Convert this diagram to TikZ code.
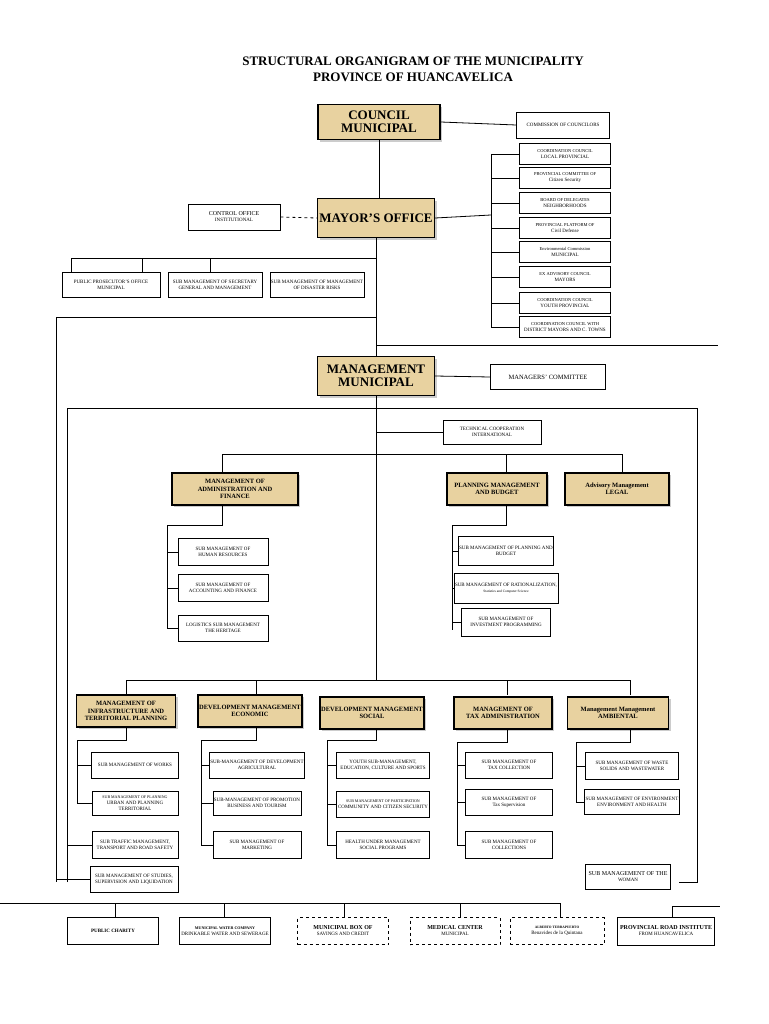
\documentclass[tikz,border=0pt]{standalone}
\usepackage{fontspec}
\setmainfont{Liberation Serif}
\usetikzlibrary{shapes,arrows,positioning,shadows}
\definecolor{tan}{RGB}{232,210,160}
\tikzset{
  box/.style={draw,thick,inner sep=1pt,align=center,font=\fontsize{5}{6}\selectfont},
  mgmt/.style={draw,line width=1.4pt,fill=tan,inner sep=1pt,align=center,font=\bfseries\fontsize{6.5}{7.5}\selectfont,drop shadow={opacity=0.4}},
  big/.style={mgmt,font=\bfseries\fontsize{13}{13}\selectfont},
  dbox/.style={box,dashed},
  ln/.style={thick}
}
\newcommand{\bx}[6][box]{\node[#1,minimum width=#4,minimum height=#5] (#2) at (#3) {#6};}
\begin{document}
\begin{tikzpicture}[x=1pt,y=-1pt]
\useasboundingbox (0,0) rectangle (768,1024);
% title
\node[font=\bfseries\fontsize{13}{16}\selectfont,align=center] (title) at (413,69) {STRUCTURAL ORGANIGRAM OF THE MUNICIPALITY\\PROVINCE OF HUANCAVELICA};

% top level
\bx[big]{council}{379,122}{122}{35}{COUNCIL\\MUNICIPAL}
\bx{commission}{563,125}{93}{26}{COMMISSION OF COUNCILORS}
\bx[big]{mayor}{376,218}{117}{39}{MAYOR'S OFFICE}
\bx{control}{234,217}{92}{26}{\fontsize{6}{7}\selectfont CONTROL OFFICE\\INSTITUTIONAL}
\draw[ln] (council) -- (council|-mayor.north);
\draw[ln] (council.east) -- (commission.west);
\draw[ln,dashed] (control.east) -- (mayor.west);

% councils on the right
\coordinate (vR) at (491,154);
\draw[ln] (mayor.east) -- (491,215);
\foreach \y/\t [count=\i] in {154/{COORDINATION COUNCIL\\LOCAL PROVINCIAL},
  178/{PROVINCIAL COMMITTEE OF\\Citizen Security},
  203/{BOARD OF DELEGATES\\NEIGHBORHOODS},
  228/{PROVINCIAL PLATFORM OF\\Civil Defense},
  252/{Environmental Commission\\MUNICIPAL},
  277/{EX ADVISORY COUNCIL\\MAYORS},
  303/{COORDINATION COUNCIL\\YOUTH PROVINCIAL},
  327/{COORDINATION COUNCIL WITH\\DISTRICT MAYORS AND C. TOWNS}}{
  \bx{cc\i}{565,\y}{91}{21}{\fontsize{4.5}{5.5}\selectfont\t}
  \draw[ln] (cc\i.west -| vR) -- (cc\i.west);
}
\draw[ln] (491,154) -- (491,327);

% offices under mayor
\bx{prosecutor}{111,285}{98}{25}{PUBLIC PROSECUTOR'S OFFICE\\MUNICIPAL}
\bx{secretary}{215,285}{94}{25}{SUB MANAGEMENT OF SECRETARY\\GENERAL AND MANAGEMENT}
\bx{risks}{317,285}{90}{25}{SUB MANAGEMENT OF MANAGEMENT\\OF DISASTER RISKS}
\draw[ln] (mayor.south) -- (376,356);
\draw[ln] (71,258) -- (376,258);
\draw[ln] (71,258) -- (71,273);
\draw[ln] (142,258) -- (142,273);
\draw[ln] (210,258) -- (210,273);
\draw[ln] (56,317) -- (376,317);
\draw[ln] (376,345) -- (718,345);

% municipal management
\bx[big]{manag}{376,376}{117}{39}{MANAGEMENT\\MUNICIPAL}
\bx{committee}{548,377}{115}{25}{\fontsize{6.5}{7}\selectfont MANAGERS' COMMITTEE}
\draw[ln] (manag.east) -- (committee.west);
\draw[ln] (manag.south) -- (376,680);
\draw[ln] (67,882) -- (67,408) -- (697,408) -- (697,882) -- (679,882);
\draw[ln] (56,317) -- (56,882);
\bx{technical}{492,432}{98}{24}{TECHNICAL COOPERATION\\INTERNATIONAL}
\draw[ln] (376,432) -- (technical.west);

\bx[mgmt]{admin}{235,489}{126}{32}{MANAGEMENT OF\\ADMINISTRATION AND\\FINANCE}
\bx[mgmt]{planning}{497,489}{100}{32}{PLANNING MANAGEMENT\\AND BUDGET}
\bx[mgmt]{legal}{617,489}{104}{32}{Advisory Management\\LEGAL}
\draw[ln] (222,473) -- (222,454) -- (622,454) -- (622,473);
\draw[ln] (506,454) -- (506,473);

\bx{hr}{223,552}{90}{27}{SUB MANAGEMENT OF\\HUMAN RESOURCES}
\bx{accounting}{223,588}{90}{27}{SUB MANAGEMENT OF\\ACCOUNTING AND FINANCE}
\bx{logistics}{223,628}{90}{26}{LOGISTICS SUB MANAGEMENT\\THE HERITAGE}
\coordinate (vA) at (167,525);
\draw[ln] (222,505) -- (222,525) -- (167,525) -- (167,629);
\foreach \n in {hr,accounting,logistics} \draw[ln] (\n.west -| vA) -- (\n.west);

\bx{pbudget}{506,551}{89}{29}{SUB MANAGEMENT OF PLANNING AND\\BUDGET}
\bx{ration}{506,588}{89}{30}{SUB MANAGEMENT OF RATIONALIZATION,\\{\fontsize{3.5}{4}\selectfont Statistics and Computer Science}}
\bx{invest}{506,622}{89}{28}{SUB MANAGEMENT OF\\INVESTMENT PROGRAMMING}
\coordinate (vP) at (452,525);
\draw[ln] (506,505) -- (506,525) -- (452,525) -- (452,630);
\foreach \n in {pbudget,ration,invest} \draw[ln] (\n.west -| vP) -- (\n.west);

% line managements
\draw[ln] (126,695) -- (126,680) -- (630,680) -- (630,695);
\foreach \x in {256,507} \draw[ln] (\x,680) -- (\x,695);
\bx[mgmt]{infra}{126,711}{99}{32}{MANAGEMENT OF\\INFRASTRUCTURE AND\\TERRITORIAL PLANNING}
\bx[mgmt]{economic}{250,711}{98}{32}{DEVELOPMENT MANAGEMENT\\ECONOMIC}
\bx[mgmt]{social}{372,713}{95}{32}{DEVELOPMENT MANAGEMENT\\SOCIAL}
\bx[mgmt]{tax}{503,713}{98}{32}{MANAGEMENT OF\\TAX ADMINISTRATION}
\bx[mgmt]{ambient}{618,713}{101}{32}{Management Management\\AMBIENTAL}

\bx{works}{135,765}{87}{26}{SUB MANAGEMENT OF WORKS}
\bx{urban}{135,803}{86}{24}{\fontsize{4}{4.5}\selectfont SUB MANAGEMENT OF PLANNING\\URBAN AND PLANNING\\TERRITORIAL}
\bx{traffic}{135,845}{86}{27}{SUB TRAFFIC MANAGEMENT,\\TRANSPORT AND ROAD SAFETY}
\bx{studies}{134,879}{88}{26}{SUB MANAGEMENT OF STUDIES,\\SUPERVISION AND LIQUIDATION}
\coordinate (vI) at (77,740);
\draw[ln] (126,727) -- (126,740) -- (77,740) -- (77,803);
\foreach \n in {works,urban} \draw[ln] (\n.west -| vI) -- (\n.west);
\coordinate (vL) at (67,845);
\coordinate (vO) at (56,882);
\draw[ln] (traffic.west -| vL) -- (traffic.west);
\draw[ln] (studies.west -| vO) -- (studies.west);

\bx{agri}{257,765}{88}{26}{SUB-MANAGEMENT OF DEVELOPMENT\\AGRICULTURAL}
\bx{promo}{257,803}{88}{24}{SUB-MANAGEMENT OF PROMOTION\\BUSINESS AND TOURISM}
\bx{marketing}{257,845}{88}{27}{SUB MANAGEMENT OF\\MARKETING}
\coordinate (vE) at (201,740);
\draw[ln] (256,727) -- (256,740) -- (201,740) -- (201,845);
\foreach \n in {agri,promo,marketing} \draw[ln] (\n.west -| vE) -- (\n.west);

\bx{youth}{383,765}{93}{26}{YOUTH SUB-MANAGEMENT,\\EDUCATION, CULTURE AND SPORTS}
\bx{particip}{383,804}{93}{26}{\fontsize{4}{4.5}\selectfont SUB MANAGEMENT OF PARTICIPATION\\COMMUNITY AND CITIZEN SECURITY}
\bx{health}{383,845}{93}{27}{HEALTH UNDER MANAGEMENT\\SOCIAL PROGRAMS}
\coordinate (vS) at (327,740);
\draw[ln] (376,729) -- (376,740) -- (327,740) -- (327,845);
\foreach \n in {youth,particip,health} \draw[ln] (\n.west -| vS) -- (\n.west);

\bx{collection}{509,765}{87}{26}{SUB MANAGEMENT OF\\TAX COLLECTION}
\bx{supervision}{509,802}{87}{26}{SUB MANAGEMENT OF\\Tax Supervision}
\bx{collections}{509,845}{87}{27}{SUB MANAGEMENT OF\\COLLECTIONS}
\coordinate (vT) at (457,742);
\draw[ln] (507,729) -- (507,742) -- (457,742) -- (457,845);
\foreach \n in {collection,supervision,collections} \draw[ln] (\n.west -| vT) -- (\n.west);

\bx{waste}{632,766}{93}{27}{SUB MANAGEMENT OF WASTE\\SOLIDS AND WASTEWATER}
\bx{environ}{632,802}{93}{25}{SUB MANAGEMENT OF ENVIRONMENT\\ENVIRONMENT AND HEALTH}
\coordinate (vM) at (576,742);
\draw[ln] (630,729) -- (630,742) -- (576,742) -- (576,802);
\foreach \n in {waste,environ} \draw[ln] (\n.west -| vM) -- (\n.west);
\bx{woman}{628,877}{85}{25}{\fontsize{6}{7}\selectfont SUB MANAGEMENT OF THE\\WOMAN}

% decentralized bodies
\draw[ln] (0,903) -- (560,903);
\bx{charity}{113,931}{91}{27}{\bfseries PUBLIC CHARITY}
\bx{water}{225,931}{91}{27}{\bfseries\fontsize{4}{5}\selectfont MUNICIPAL WATER COMPANY\\DRINKABLE WATER AND SEWERAGE}
\bx[dbox]{savings}{343,931}{91}{27}{\bfseries\fontsize{6}{7}\selectfont MUNICIPAL BOX OF\\SAVINGS AND CREDIT}
\bx[dbox]{medical}{455,931}{90}{27}{\bfseries\fontsize{6}{7}\selectfont MEDICAL CENTER\\MUNICIPAL}
\bx[dbox]{alberto}{557,931}{94}{27}{\bfseries\fontsize{3.5}{4.5}\selectfont ALBERTO TERRAPUERTO\\Benavides de la Quintana}
\bx{road}{666,931}{97}{28}{\bfseries\fontsize{6}{7}\selectfont PROVINCIAL ROAD INSTITUTE\\FROM HUANCAVELICA}
\foreach \n/\x in {charity/115,water/224,savings/344,medical/460,alberto/560} \draw[ln] (\x,903) -- (\x,903 |- \n.north);
\draw[ln] (672,917) -- (672,906) -- (720,906);
\end{tikzpicture}
\end{document}
